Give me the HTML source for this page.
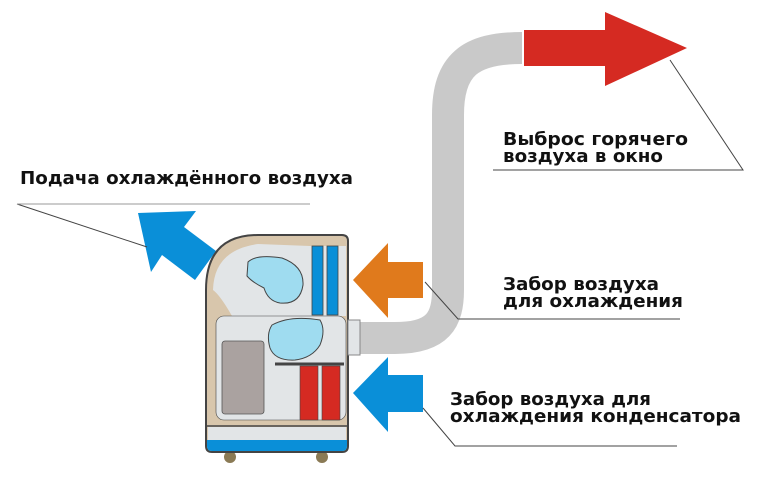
<!DOCTYPE html>
<html><head><meta charset="utf-8"><style>
html,body{margin:0;padding:0;background:#fff;}
svg{display:block;}
text{font-family:"DejaVu Sans","Liberation Sans",sans-serif;font-weight:bold;font-size:18px;fill:#111;}
</style></head><body>
<svg width="760" height="500" viewBox="0 0 760 500" xmlns="http://www.w3.org/2000/svg">
<!-- hose -->
<path d="M352 338 L395 338 C438 338 448 320 448 290 L448 115 C448 65 470 48 522 48" fill="none" stroke="#c9c9c9" stroke-width="32"/>
<!-- red arrow -->
<polygon points="524,30 605,30 605,12 687,48 605,86 605,66 524,66" fill="#d52a22"/>
<!-- orange arrow -->
<polygon points="353,280 388,243 388,262 423,262 423,298 388,298 388,318" fill="#e07a1c"/>
<!-- bottom blue arrow -->
<polygon points="353,393 388,357 388,375 423,375 423,412 388,412 388,432" fill="#0a8fd8"/>
<!-- diagonal blue arrow -->
<polygon points="138,213 196,211 184,227 216,251 195,280 162,255 151,272" fill="#0a8fd8"/>
<!-- leader lines -->
<g stroke="#444" stroke-width="1" fill="none">
<polyline points="17,204 147,247"/><line x1="17" y1="204" x2="310" y2="204" stroke="#999"/>
<polyline points="670,60 743,170 493,170"/>
<polyline points="425,282 458,319 680,319"/>
<polyline points="423,408 455,446 677,446"/>
</g>
<!-- unit -->
<circle cx="230" cy="457" r="6" fill="#8a7a55"/>
<circle cx="322" cy="457" r="6" fill="#8a7a55"/>
<path d="M206 290 Q206 235 258 235 L342 235 Q348 235 348 241 L348 446 Q348 452 342 452 L212 452 Q206 452 206 446 Z" fill="#d8c6ac" stroke="#444" stroke-width="2"/>
<path d="M213 290 Q214 250 258 244 L310 246 L346 246 L346 316 L232 316 Q220 295 213 290 Z" fill="#e2e5e7"/>
<rect x="312" y="246" width="11" height="69" fill="#0a8fd8" stroke="#444" stroke-width="0.8"/>
<rect x="327" y="246" width="11" height="69" fill="#0a8fd8" stroke="#444" stroke-width="0.8"/>
<path d="M248 262 Q256 254 282 258 Q304 266 303 285 Q300 305 280 303 Q268 301 264 288 Q252 282 247 276 Z" fill="#9fdcf0" stroke="#444" stroke-width="1"/>
<rect x="216" y="316" width="130" height="104" rx="8" fill="#e2e5e7" stroke="#444" stroke-width="0.6"/>
<rect x="222" y="341" width="42" height="73" rx="3" fill="#aaa2a0" stroke="#555" stroke-width="0.8"/>
<path d="M272 325 Q290 315 320 320 Q326 330 320 345 Q312 358 295 360 Q275 361 270 348 Q266 334 272 325 Z" fill="#9fdcf0" stroke="#444" stroke-width="1"/>
<line x1="275" y1="364" x2="344" y2="364" stroke="#444" stroke-width="3"/>
<rect x="300" y="366" width="18" height="54" fill="#d52a22" stroke="#444" stroke-width="0.6"/>
<rect x="322" y="366" width="18" height="54" fill="#d52a22" stroke="#444" stroke-width="0.6"/>
<rect x="208" y="427" width="138" height="13" fill="#e2e5e7"/>
<line x1="207" y1="426" x2="347" y2="426" stroke="#444" stroke-width="1.5"/>
<path d="M207 440 L347 440 L347 446 Q347 451 342 451 L212 451 Q207 451 207 446 Z" fill="#0a8fd8"/>
<rect x="348" y="320" width="12" height="35" fill="#e2e5e7" stroke="#888" stroke-width="1"/>
<!-- text -->
<text x="20" y="184" textLength="333" lengthAdjust="spacingAndGlyphs">Подача охлаждённого воздуха</text>
<text x="503" y="145" textLength="185" lengthAdjust="spacingAndGlyphs">Выброс горячего</text>
<text x="503" y="162" textLength="160" lengthAdjust="spacingAndGlyphs">воздуха в окно</text>
<text x="503" y="290" textLength="156" lengthAdjust="spacingAndGlyphs">Забор воздуха</text>
<text x="503" y="307" textLength="180" lengthAdjust="spacingAndGlyphs">для охлаждения</text>
<text x="450" y="405" textLength="201" lengthAdjust="spacingAndGlyphs">Забор воздуха для</text>
<text x="450" y="422" textLength="291" lengthAdjust="spacingAndGlyphs">охлаждения конденсатора</text>
</svg>
</body></html>
